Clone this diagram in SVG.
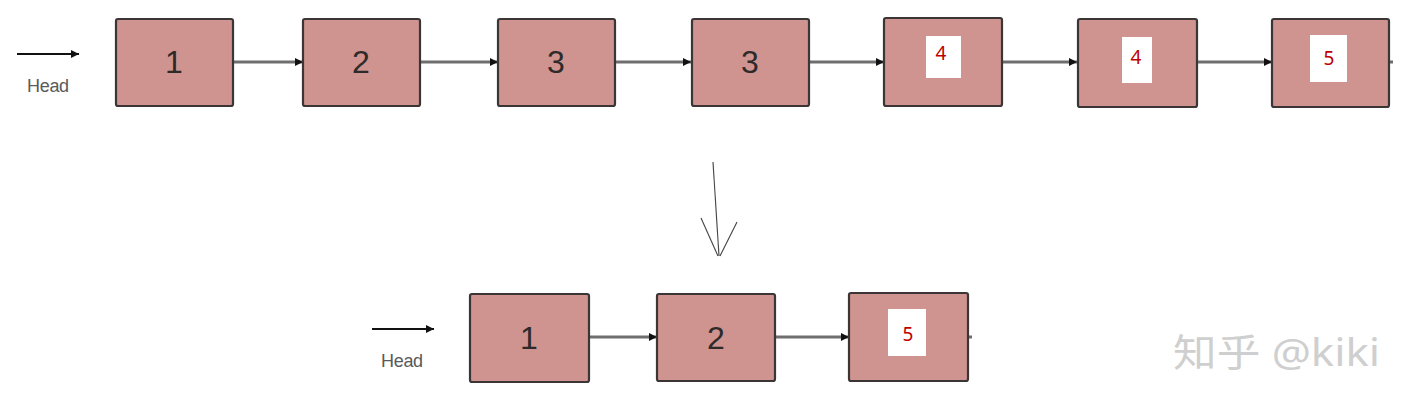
<svg xmlns="http://www.w3.org/2000/svg" width="1417" height="408" viewBox="0 0 1417 408">
<style>
.box{fill:#cf948f;stroke:#3b3535;stroke-width:2.2}
.num{font-family:"Liberation Sans",Arial,sans-serif;font-size:32px;fill:#2e2a2a;text-anchor:middle}
.lbl{fill:#ffffff}
.red{font-family:"Noto Sans","DejaVu Sans",sans-serif;font-size:19px;fill:#c00000;text-anchor:middle}
.conn{stroke:#6e6e6e;stroke-width:3;fill:none}
.head{stroke:#111;stroke-width:2;fill:none}
.htxt{font-family:"Liberation Sans",Arial,sans-serif;font-size:18px;fill:#5a5a5a;letter-spacing:-0.3px}
.hand{stroke:#444;stroke-width:1.1;fill:none}
</style>
<defs>
<marker id="ah" viewBox="0 0 10 10" refX="10" refY="5" markerWidth="10" markerHeight="8" markerUnits="userSpaceOnUse" orient="auto">
<path d="M0,0 L10,5 L0,10 z" fill="#111"/>
</marker>
</defs>
<rect width="1417" height="408" fill="#ffffff"/>

<g id="connectors">
<line class="head" x1="17" y1="54" x2="79" y2="54" marker-end="url(#ah)"/>
<line class="conn" x1="234" y1="62" x2="303" y2="62" marker-end="url(#ah)"/>
<line class="conn" x1="421" y1="62" x2="498" y2="62" marker-end="url(#ah)"/>
<line class="conn" x1="616" y1="62" x2="691" y2="62" marker-end="url(#ah)"/>
<line class="conn" x1="810" y1="62" x2="884" y2="62" marker-end="url(#ah)"/>
<line class="conn" x1="1003" y1="62" x2="1077" y2="62" marker-end="url(#ah)"/>
<line class="conn" x1="1198" y1="62" x2="1272" y2="62" marker-end="url(#ah)"/>
<line class="conn" x1="1389" y1="62" x2="1393" y2="62"/>
<line class="head" x1="372" y1="329" x2="434" y2="329" marker-end="url(#ah)"/>
<line class="conn" x1="590" y1="337" x2="657" y2="337" marker-end="url(#ah)"/>
<line class="conn" x1="776" y1="337" x2="849" y2="337" marker-end="url(#ah)"/>
<line class="conn" x1="968" y1="337" x2="972" y2="337"/>
</g>

<g id="head-top"><text class="htxt" x="27" y="92">Head</text></g>
<g id="head-bottom"><text class="htxt" x="381" y="367">Head</text></g>

<g id="n1"><rect class="box" x="116" y="19" width="117" height="87" rx="2"/><text class="num" x="174" y="73">1</text></g>
<g id="n2"><rect class="box" x="303" y="19" width="117" height="87" rx="2"/><text class="num" x="361" y="73">2</text></g>
<g id="n3"><rect class="box" x="498" y="19" width="117" height="87" rx="2"/><text class="num" x="556" y="73">3</text></g>
<g id="n4"><rect class="box" x="692" y="19" width="117" height="87" rx="2"/><text class="num" x="750" y="73">3</text></g>
<g id="n5"><rect class="box" x="884" y="18" width="118" height="88" rx="2"/><rect class="lbl" x="926" y="36" width="35" height="42"/><text class="red" x="941" y="60">4</text></g>
<g id="n6"><rect class="box" x="1078" y="19" width="119" height="88" rx="2"/><rect class="lbl" x="1122" y="37" width="30" height="46"/><text class="red" x="1136" y="64">4</text></g>
<g id="n7"><rect class="box" x="1272" y="19" width="117" height="88" rx="2"/><rect class="lbl" x="1310" y="35" width="37" height="47"/><text class="red" x="1329" y="65">5</text></g>

<g id="b1"><rect class="box" x="470" y="294" width="119" height="88" rx="2"/><text class="num" x="529" y="349">1</text></g>
<g id="b2"><rect class="box" x="657" y="294" width="118" height="87" rx="2"/><text class="num" x="716" y="349">2</text></g>
<g id="b3"><rect class="box" x="849" y="293" width="119" height="88" rx="2"/><rect class="lbl" x="888" y="309" width="38" height="47"/><text class="red" x="908" y="341">5</text></g>

<g id="hand-arrow">
<path class="hand" d="M713,162 Q716,210 719,256"/>
<path class="hand" d="M701,218 L718,256"/>
<path class="hand" d="M737,222 L720,256"/>
</g>

<g id="watermark">
<text x="1173" y="366" textLength="207" lengthAdjust="spacingAndGlyphs" font-family="'Noto Sans','Noto Sans CJK SC',sans-serif" font-size="38" fill="#cfcfcf">知乎 @kiki</text>
</g>
</svg>
